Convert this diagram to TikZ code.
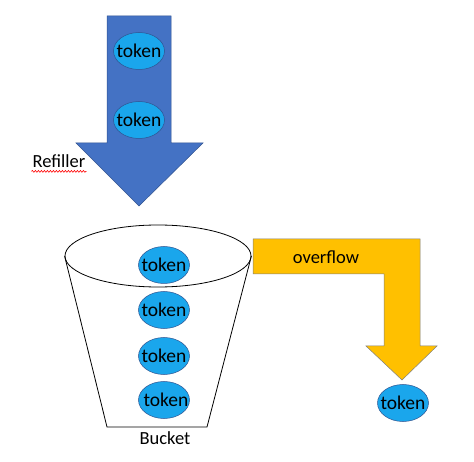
\documentclass[tikz,border=0pt]{standalone}
\usepackage{fontspec}
\setmainfont{Carlito}
\usetikzlibrary{shapes.geometric, positioning, decorations.pathmorphing}
\definecolor{arrowBlue}{HTML}{4472C4}
\definecolor{arrowEdge}{HTML}{2F528F}
\definecolor{tokenBlue}{HTML}{1AA6EC}
\definecolor{overflowGold}{HTML}{FFC000}
\tikzstyle{token} = [ellipse, minimum width=51pt, minimum height=37pt, inner sep=0pt, fill=tokenBlue,
draw=arrowEdge, line width=0.5pt, font=\fontsize{19.5}{19.5}\selectfont]
\tikzstyle{textLabel} = [inner sep=1pt, font=\fontsize{18.5}{18.5}\selectfont]
\tikzstyle{bigArrow} = [line width=0.5pt, line join=miter]
\newcommand{\tok}{\makebox[0pt]{token}}

\begin{document}
\begin{tikzpicture} [x=1pt, y=-1pt, node distance=45pt]
        \useasboundingbox (0,0) rectangle (474,462);

        % refiller arrow
        \draw[bigArrow, draw=arrowEdge, fill=arrowBlue] (107,16) -- (171,16) -- (171,143) -- (203,143)
            -- (139,206) -- (76,143) -- (107,143) -- cycle;
        \node (refToken1) [token] at (139,51) {\tok};
        \node (refToken2) [token, below of=refToken1, node distance=69pt] {\tok};

        \node (refiller) [textLabel] at (59,161) {Refiller};
        \draw[red, line width=0.6pt, decorate, decoration={snake, amplitude=0.9pt, segment length=3pt}]
            ([yshift=-4pt]refiller.base west) -- ([yshift=-4pt]refiller.base east);

        % bucket
        \node (bucketTop) [draw, ellipse, minimum width=186pt, minimum height=62pt, line width=0.8pt] at (158,256) {};
        \coordinate (bucketBL) at (107,427);
        \coordinate (bucketBR) at (207,427);
        \draw[line width=0.8pt] (bucketTop.west) -- (bucketBL) -- (bucketBR) -- (bucketTop.east);
        \node (bucket) [textLabel] at (165,438) {Bucket};

        \node (bucketToken1) [token] at (164,265) {\tok};
        \node (bucketToken2) [token, below of=bucketToken1] {\tok};
        \node (bucketToken3) [token, below of=bucketToken2, yshift=-1pt] {\tok};
        \node (bucketToken4) [token, below of=bucketToken3, yshift=1pt] {\hspace{4pt}\tok};

        % overflow arrow
        \draw[bigArrow, draw=gray, fill=overflowGold] (253,239) -- (420,239) -- (420,346) -- (437,346)
            -- (402,380) -- (366,346) -- (384,346) -- (384,274) -- (253,274) -- cycle;
        \node (overflow) [textLabel] at (326,257) {overflow};
        \node (lostToken) [token] at (403,403) {\tok};

\end{tikzpicture}
\end{document}
